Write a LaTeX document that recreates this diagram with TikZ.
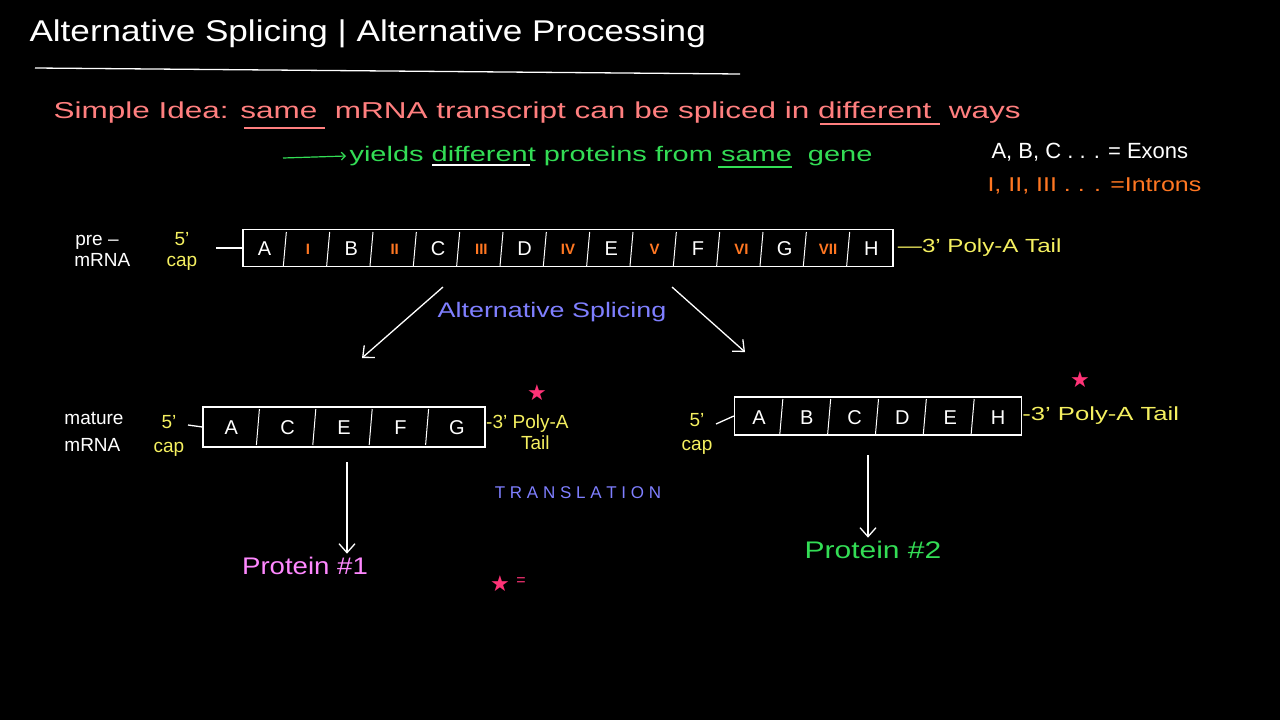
\documentclass[tikz,border=0pt]{standalone}
\usepackage{fontspec}
\setmainfont{Liberation Sans}
\newfontfamily\symf{DejaVu Sans}
\usetikzlibrary{arrows.meta}
\definecolor{salmon}{HTML}{FF7F7F}
\definecolor{grn}{HTML}{33DD55}
\definecolor{org}{HTML}{FF7722}
\definecolor{yel}{HTML}{F5F060}
\definecolor{blu}{HTML}{7F7FFF}
\definecolor{pnk}{HTML}{FF3377}
\definecolor{mag}{HTML}{FF88FF}
\newcommand\hs[2]{\scalebox{#1}[1]{#2}}
\tikzset{wt/.style={text=white,font=\fontsize{22}{24}\selectfont},
 yt/.style={text=yel,font=\fontsize{19}{21}\selectfont,align=center,inner sep=0pt},
 seg/.style={font=\fontsize{20}{22}\selectfont},
 ln/.style={draw=white,line width=1.3pt},
 arr/.style={ln,-{Straight Barb[length=9pt,width=16pt]}},
 star/.style={text=pnk,font=\symf\fontsize{22}{22}\selectfont}}
\begin{document}
\begin{tikzpicture}[x=1pt,y=-1pt]
\fill[black] (0,0) rectangle (1280,720);
\useasboundingbox (0,0) rectangle (1280,720);
\node[wt,anchor=west,font=\fontsize{30}{32}\selectfont] (title) at (26,34) {\hs{1.17}{Alternative Splicing | Alternative Processing}};
\draw[ln] (35,68) -- (740,74);
\node[anchor=west,text=salmon,font=\fontsize{23}{25}\selectfont] (idea) at (50,113) {\hs{1.37}{Simple Idea: same \ mRNA transcript can be spliced in different \ ways}};
\draw[salmon,line width=1.2pt] (244,128)--(325,128) (820,124)--(940,124);
\coordinate (ga) at (283,158);
\node[anchor=west,text=grn,font=\fontsize{21}{23}\selectfont] (yields) at (346,156) {\hs{1.38}{yields different proteins from same \ gene}};
\draw[grn,line width=1.2pt,-{Straight Barb}] (ga) -- (yields.west);
\draw[white,line width=1.1pt] (432,165)--(530,165);
\draw[grn,line width=1.1pt] (718,167)--(792,167);
\node[wt,anchor=west] (ex) at (988,152) {A, B, C . . . = Exons};
\node[anchor=west,text=org,font=\fontsize{20}{22}\selectfont] (in) at (984,186) {\hs{1.25}{I, II, III . . . =Introns}};
% pre-mRNA
\node[wt,align=center,font=\fontsize{19}{21}\selectfont] (pre) at (97,251) {pre –\\ \ \ mRNA};
\node[yt] (cap1) at (182,251) {5'\\cap};
\node[draw=white,line width=1.3pt,minimum width=650pt,minimum height=37pt,inner sep=0] (pm) at (568,248) {};
\draw[ln] (216,248) -- (pm.west);
\foreach \l [count=\i] in {A,I,B,II,C,III,D,IV,E,V,F,VI,G,VII,H}{
  \pgfmathsetmacro\xx{243+(\i-0.5)*650/15}
  \pgfmathtruncatemacro\odd{mod(\i,2)}
  \ifnum\odd=1 \node[seg,text=white] at (\xx,249) {\l};
  \else \node[seg,text=org,font=\bfseries\fontsize{15}{16}\selectfont] at (\xx,249) {\l};\fi
  \ifnum\i<15 \draw[white,line width=1pt] ({243+\i*650/15},232)--({243+\i*650/15-3},266);\fi
}
\node[yt,anchor=west] (t1) at (pm.east) {\hs{1.27}{\,—3' Poly-A Tail}};
% split arrows
\coordinate (s1) at (443,287); \coordinate (e1) at (362,358);
\coordinate (s2) at (672,287); \coordinate (e2) at (745,352);
\draw[arr] (s1)--(e1);
\draw[arr] (s2)--(e2);
\node[text=blu,font=\fontsize{21}{23}\selectfont] (as) at (552,312) {\hs{1.28}{Alternative Splicing}};
% left mature
\node[wt,align=left,font=\fontsize{19}{21}\selectfont] (mat) at (94,432) {mature\\[6pt]mRNA};
\node[yt] (cap2) at (169,436) {5'\\[3pt]cap};
\node[draw=white,line width=1.3pt,minimum width=282pt,minimum height=40pt,inner sep=0] (m1) at (344,427) {};
\draw[ln] (188,425) -- (m1.west);
\foreach \l [count=\i] in {A,C,E,F,G}{
  \node[seg,text=white] at ({203+(\i-0.5)*282/5},428) {\l};
  \ifnum\i<5 \draw[white,line width=1pt] ({203+\i*282/5},409)--({203+\i*282/5-3},445);\fi}
\node[yt,anchor=west] (t2) at (486,432) {-3' Poly-A\\\ \ \ Tail};
\node[star] (st1) at (537,393) {★};
% right mature
\node[yt] (cap3) at (697,434) {5'\\[3pt]cap};
\node[draw=white,line width=1.3pt,minimum width=287pt,minimum height=38pt,inner sep=0] (m2) at (878,416) {};
\draw[ln] (716,424) -- (m2.west);
\foreach \l [count=\i] in {A,B,C,D,E,H}{
  \node[seg,text=white] at ({735+(\i-0.5)*287/6},418) {\l};
  \ifnum\i<6 \draw[white,line width=1pt] ({735+\i*287/6},399)--({735+\i*287/6-3},434);\fi}
\node[yt,anchor=west] (t3) at (m2.east) {\hs{1.35}{-3' Poly-A Tail}};
\node[star] (st2) at (1080,380) {★};
% translation
\node[text=blu,font=\fontsize{17}{19}\selectfont] (tr) at (578,493) {T R A N S L A T I O N};
\node[text=mag,font=\fontsize{24}{26}\selectfont] (p1) at (305,566) {\hs{1.15}{Protein \#1}};
\node[text=grn,font=\fontsize{24}{26}\selectfont] (p2) at (873,550) {\hs{1.25}{Protein \#2}};
\draw[arr] (347,462) -- (p1.north -| 347,0);
\draw[arr] (868,455) -- (p2.north -| 868,0);
\node[star] (st3) at (500,584) {★};
\node[text=pnk,font=\fontsize{16}{16}\selectfont] (eq) at (521,582) {=};
\end{tikzpicture}
\end{document}
